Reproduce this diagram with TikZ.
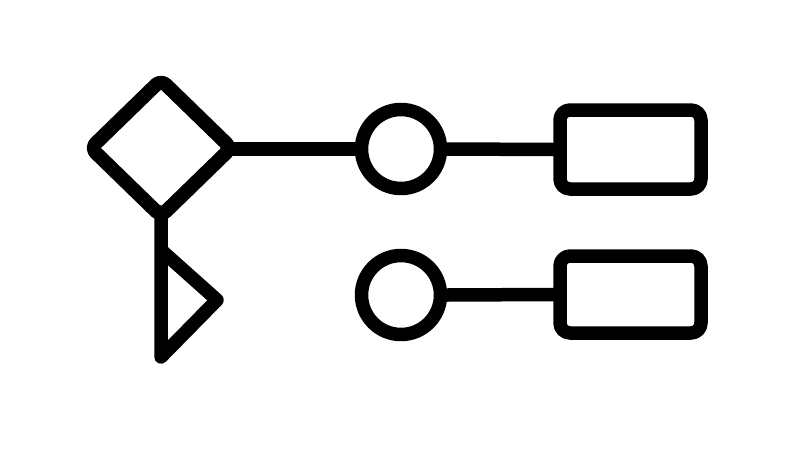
\documentclass[tikz,border=0pt]{standalone}
\usetikzlibrary{shapes.geometric}
\begin{document}
\begin{tikzpicture}[x=1pt,y=-1pt,
  every path/.style={line width=14pt,line cap=round,line join=round},
  dia/.style={draw,shape=diamond,inner sep=0pt,minimum width=146pt,minimum height=142pt,rounded corners=7pt,line width=14pt},
  circ/.style={draw,circle,inner sep=0pt,minimum size=79pt,line width=13.5pt},
  box/.style={draw,rectangle,inner sep=0pt,minimum width=141pt,minimum height=79pt,rounded corners=10pt,line width=13.5pt},
  conn/.style={line width=13.5pt}]
\useasboundingbox[fill=white] (0,0) rectangle (800,450);
\node[dia] (d) at (161,148) {};
\node[circ] (c1) at (401,149) {};
\node[circ] (c2) at (401,295) {};
\node[box] (r1) at (630.5,149.5) {};
\node[box,minimum height=77pt] (r2) at (630.5,294.5) {};
\coordinate (t1) at (161,250);
\coordinate (t2) at (217,300);
\coordinate (t3) at (161,357);
\draw[conn] (c1.west) -- ([xshift=-14pt]c1.west -| d.east);
\draw[conn] (c1.east) -- (r1.west);
\draw[conn] (c2.east) -- (r2.west);
\draw[conn] ([yshift=14pt]d.south) -- (t3) -- (t2) -- (t1);
\end{tikzpicture}
\end{document}
